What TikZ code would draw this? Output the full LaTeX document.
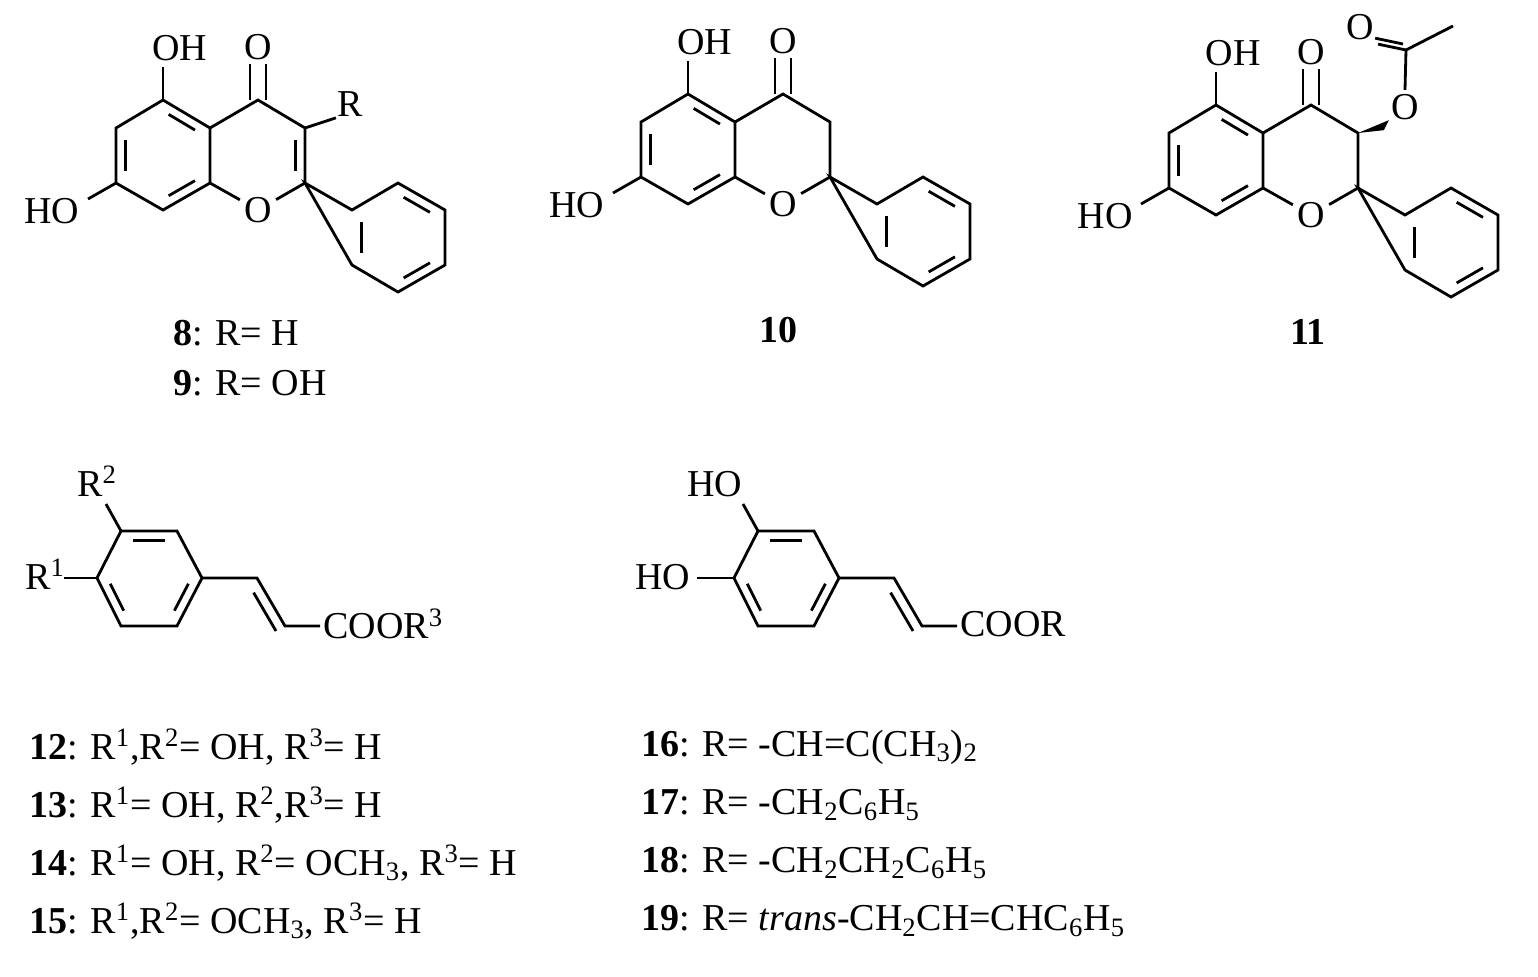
\documentclass[tikz,border=0pt]{standalone}
\usepackage{fontspec}
\setmainfont{Liberation Serif}
\usetikzlibrary{calc}
\begin{document}
\begin{tikzpicture}[x=0.5pt,y=-0.5pt,line width=1.4pt,
  lbl/.style={inner sep=0pt,font=\fontsize{19}{23}\selectfont},
  atom/.style={inner sep=1.5pt,font=\fontsize{19}{23}\selectfont},
  capt/.style={inner sep=0pt,anchor=west,font=\fontsize{19}{23}\selectfont}]
\useasboundingbox (0,0) rectangle (1538,976);
\newcommand{\inb}[3]{\draw ($(#1)!0.15!(#2)!0.2!(#3)$) -- ($(#2)!0.15!(#1)!0.2!(#3)$);}
% ---- flavonoid core macro ----
\newcommand{\core}{%
 \coordinate (a5) at (163,100); \coordinate (a6) at (116,128);
 \coordinate (a7) at (116,183); \coordinate (a8) at (163,210);
 \coordinate (a8a) at (210,183); \coordinate (a4a) at (210,128);
 \coordinate (c4) at (258,100); \coordinate (c3) at (305,128);
 \coordinate (c2) at (305,183); \coordinate (cA) at (163,155);
 \coordinate (p1) at (352,210); \coordinate (p2) at (398,183);
 \coordinate (p3) at (445,210); \coordinate (p4) at (445,265);
 \coordinate (p5) at (398,292); \coordinate (p6) at (352,265);
 \coordinate (cP) at (398,238);
 \node[atom] (O1) at (258,210) {O};
 \node[atom] (O4) at (258,47) {O};
 \node[lbl] (OH5) at (180,48) {OH};
 \node[lbl] (HO7) at (52,211) {HO};
 \draw (a5)--(a6)--(a7)--(a8)--(a8a)--(a4a)--cycle;
 \inb{a6}{a7}{cA} \inb{a8}{a8a}{cA} \inb{a4a}{a5}{cA}
 \draw (a4a)--(c4)--(c3)--(c2)--(O1)--(a8a);
 \draw ([xshift=-4]c4)--([xshift=-4]O4.south) ([xshift=4]c4)--([xshift=4]O4.south);
 \draw (a5)--(163,67);
 \draw (a7)--(88,199);
 \draw (c2)--(p1)--(p2)--(p3)--(p4)--(p5)--(p6)--cycle;
 \inb{p2}{p3}{cP} \inb{p4}{p5}{cP} \inb{p6}{p1}{cP}
}
% ---- 8/9 ----
\begin{scope}
\core
\inb{c3}{c2}{258,155}
\node[lbl] (R8) at (350,104) {R};
\draw (c3)--(R8.south west);
\node[lbl,anchor=west] (l8) at (172,333) {\textbf{8}: R= H};
\node[lbl,anchor=west] (l9) at (172,383) {\textbf{9}: R= OH};
\end{scope}
% ---- 10 ----
\begin{scope}[shift={(525,-6)}]
\core
\node[lbl] (l10) at (253,336) {\textbf{10}};
\end{scope}
% ---- 11 ----
\begin{scope}[shift={(1053,5)}]
\core
\node[atom] (Oac) at (352,102) {O};
\coordinate (Cac) at (353,45);
\node[atom] (Oc) at (307,22) {O};
\coordinate (Me) at (400,21);
\fill (c3) -- ($(Oac.south west)+(2,-4)$) -- ($(Oac.south west)+(-3,6)$) -- cycle;
\draw (Oac.north)--(Cac)--(Me);
\draw (Cac)--(Oc.south east);
\draw ($(Cac)+(-3,-6)$)--($(Oc.south east)+(-3,-6)$);
\node[lbl] (l11) at (255,327) {\textbf{11}};
\end{scope}
% ---- cinnamates ----
\newcommand{\cinn}{%
 \coordinate (b1) at (121,531); \coordinate (b2) at (177,531);
 \coordinate (b3) at (202,578); \coordinate (b4) at (177,626);
 \coordinate (b5) at (121,626); \coordinate (b6) at (97,578);
 \coordinate (cB) at (149,578);
 \coordinate (v1) at (257,578); \coordinate (v2) at (285,626);
 \draw (b1)--(b2)--(b3)--(b4)--(b5)--(b6)--cycle;
 \inb{b1}{b2}{cB} \inb{b3}{b4}{cB} \inb{b5}{b6}{cB}
 \draw (b3)--(v1)--(v2)--(320,626);
 \draw ($(v1)!0.2!(v2)+(-9,5)$)--($(v2)+(-9,5)$);
 \draw (b1)--(106,504);
}
\begin{scope}
\cinn
\draw (b6)--(64,578);
\node[lbl] (R2) at (97,481) {R\textsuperscript{2}};
\node[lbl] (R1) at (45,574) {R\textsuperscript{1}};
\node[capt] (coo) at (322,624) {COOR\textsuperscript{3}};
\end{scope}
\begin{scope}[shift={(637,0)}]
\cinn
\draw (b6)--(60,578);
\node[lbl] (HO3) at (78,484) {HO};
\node[lbl] (HO4) at (26,577) {HO};
\node[capt] (coo2) at (322,624) {COOR};
\end{scope}
% ---- captions ----
\node[capt] (t12) at (28,747) {\textbf{12}: R\textsuperscript{1},R\textsuperscript{2}= OH, R\textsuperscript{3}= H};
\node[capt] (t13) at (28,805) {\textbf{13}: R\textsuperscript{1}= OH, R\textsuperscript{2},R\textsuperscript{3}= H};
\node[capt] (t14) at (28,863) {\textbf{14}: R\textsuperscript{1}= OH, R\textsuperscript{2}= OCH\textsubscript{3}, R\textsuperscript{3}= H};
\node[capt] (t15) at (28,921) {\textbf{15}: R\textsuperscript{1},R\textsuperscript{2}= OCH\textsubscript{3}, R\textsuperscript{3}= H};
\node[capt] (t16) at (640,747) {\textbf{16}: R= -CH=C(CH\textsubscript{3})\textsubscript{2}};
\node[capt] (t17) at (640,805) {\textbf{17}: R= -CH\textsubscript{2}C\textsubscript{6}H\textsubscript{5}};
\node[capt] (t18) at (640,863) {\textbf{18}: R= -CH\textsubscript{2}CH\textsubscript{2}C\textsubscript{6}H\textsubscript{5}};
\node[capt] (t19) at (640,921) {\textbf{19}: R= \textit{trans}-CH\textsubscript{2}CH=CHC\textsubscript{6}H\textsubscript{5}};
\end{tikzpicture}
\end{document}
